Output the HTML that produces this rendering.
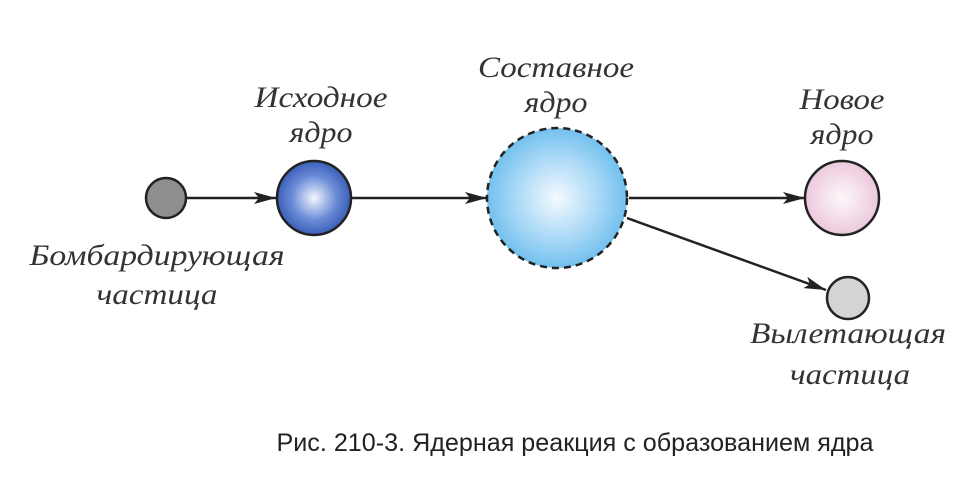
<!DOCTYPE html>
<html><head><meta charset="utf-8"><style>
html,body{margin:0;padding:0;background:#fff;}
</style></head><body>
<svg width="972" height="491" viewBox="0 0 972 491" xmlns="http://www.w3.org/2000/svg">
<defs>
<radialGradient id="g1" cx="0.5" cy="0.5" r="0.5"><stop offset="0" stop-color="#f2f6ff"/><stop offset="0.6" stop-color="#6a8bd6"/><stop offset="1" stop-color="#3a5fb8"/></radialGradient>
<radialGradient id="g2" cx="0.5" cy="0.5" r="0.5"><stop offset="0" stop-color="#f4faff"/><stop offset="0.6" stop-color="#a8d8f6"/><stop offset="1" stop-color="#72c0ee"/></radialGradient>
<radialGradient id="g3" cx="0.5" cy="0.5" r="0.5"><stop offset="0" stop-color="#fdf8fb"/><stop offset="1" stop-color="#ecc8dc"/></radialGradient>
<marker id="a" markerWidth="22" markerHeight="12" refX="22" refY="6" orient="auto" markerUnits="userSpaceOnUse"><path d="M0,0 L22,6 L0,12 L5,6 Z" fill="#222"/></marker>
</defs>
<g stroke="#222" stroke-width="2.5" fill="none">
<line x1="187" y1="198" x2="276" y2="198" marker-end="url(#a)"/>
<line x1="352" y1="198" x2="487" y2="198" marker-end="url(#a)"/>
<line x1="629" y1="198" x2="805" y2="198" marker-end="url(#a)"/>
<line x1="627" y1="218" x2="826" y2="290" marker-end="url(#a)"/>
</g>
<circle cx="166" cy="198" r="20" fill="#8e8f91" stroke="#222" stroke-width="2.5"/>
<circle cx="314" cy="198" r="37" fill="url(#g1)" stroke="#222" stroke-width="2.5"/>
<circle cx="557" cy="198" r="70" fill="url(#g2)" stroke="#222" stroke-width="2.5" stroke-dasharray="7,5"/>
<circle cx="842" cy="198" r="37" fill="url(#g3)" stroke="#222" stroke-width="2.5"/>
<circle cx="848" cy="298" r="21" fill="#d4d4d4" stroke="#222" stroke-width="2.5"/>
<g font-family="Liberation Serif, serif" font-style="italic" font-size="30" fill="#333" text-anchor="middle" lengthAdjust="spacingAndGlyphs">
<text x="321" y="107" textLength="133" lengthAdjust="spacingAndGlyphs">Исходное</text>
<text x="321" y="142" textLength="63" lengthAdjust="spacingAndGlyphs">ядро</text>
<text x="556" y="77" textLength="156" lengthAdjust="spacingAndGlyphs">Составное</text>
<text x="556" y="112" textLength="63" lengthAdjust="spacingAndGlyphs">ядро</text>
<text x="842" y="109" textLength="85" lengthAdjust="spacingAndGlyphs">Новое</text>
<text x="842" y="144" textLength="63" lengthAdjust="spacingAndGlyphs">ядро</text>
<text x="157" y="265" textLength="255" lengthAdjust="spacingAndGlyphs">Бомбардирующая</text>
<text x="157" y="304" textLength="121" lengthAdjust="spacingAndGlyphs">частица</text>
<text x="848" y="343" textLength="196" lengthAdjust="spacingAndGlyphs">Вылетающая</text>
<text x="850" y="384" textLength="120" lengthAdjust="spacingAndGlyphs">частица</text>
</g>
<text x="575" y="451" font-family="Liberation Sans, sans-serif" font-size="25" fill="#222" text-anchor="middle" textLength="597" lengthAdjust="spacingAndGlyphs">Рис. 210-3. Ядерная реакция с образованием ядра</text>
</svg>
</body></html>
